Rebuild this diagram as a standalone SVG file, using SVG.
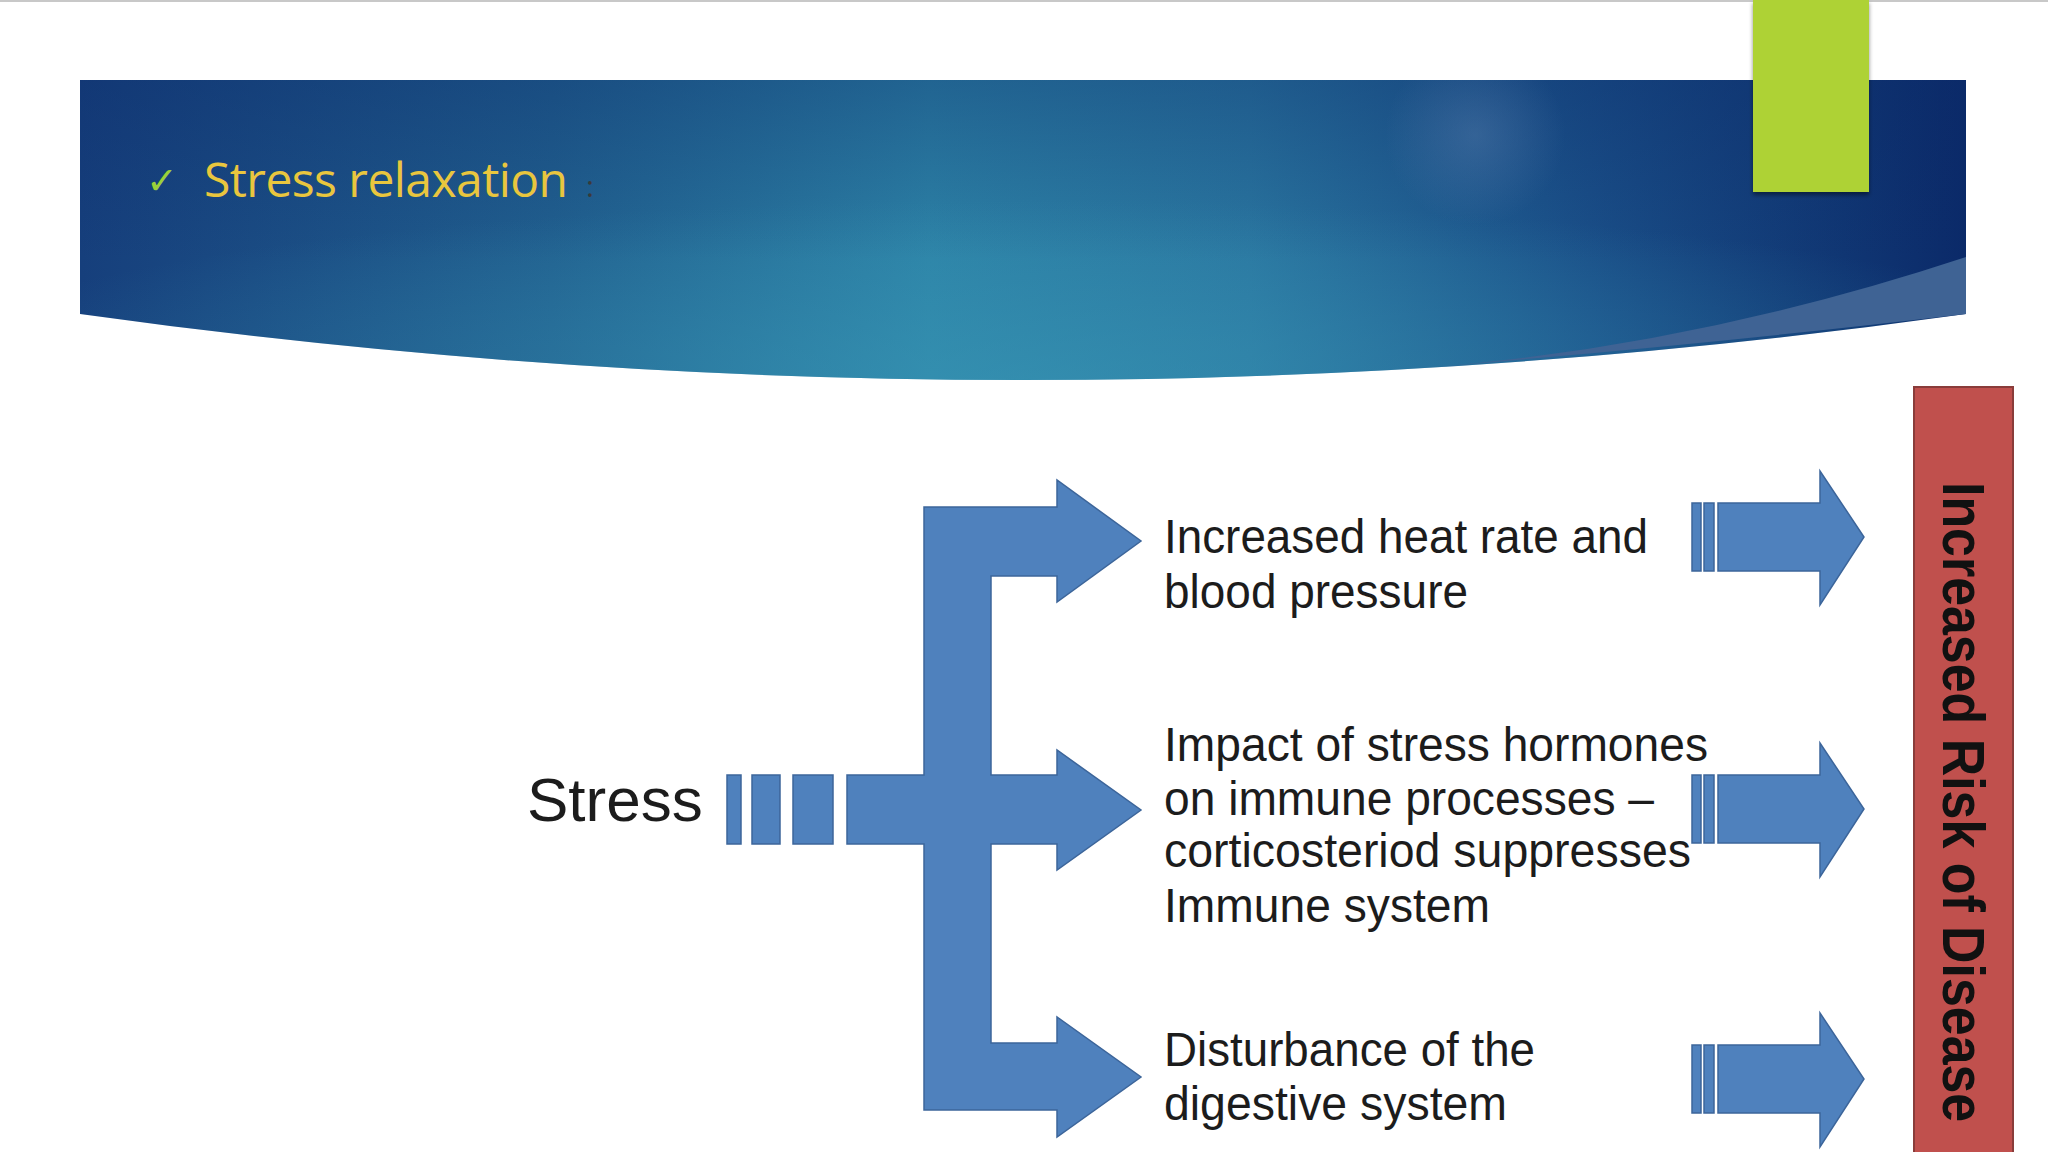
<svg xmlns="http://www.w3.org/2000/svg" width="2048" height="1152" viewBox="0 0 2048 1152">
<defs>
<style>
.lbl{font-family:"Liberation Sans",Arial,sans-serif;font-size:49px;fill:#1c1c1c;}
.blue{fill:#4f81bd;stroke:#3c659a;stroke-width:1.5;}
</style>
<linearGradient id="hdr" x1="0" y1="0" x2="1" y2="0">
<stop offset="0" stop-color="#163f7c"/>
<stop offset="0.25" stop-color="#21608f"/>
<stop offset="0.45" stop-color="#2d83a7"/>
<stop offset="0.62" stop-color="#2a76a0"/>
<stop offset="0.8" stop-color="#1a4f88"/>
<stop offset="1" stop-color="#0b2a69"/>
</linearGradient>
<linearGradient id="vshade" x1="0" y1="0" x2="0" y2="1">
<stop offset="0" stop-color="#0b2a69" stop-opacity="0.35"/>
<stop offset="0.6" stop-color="#0b2a69" stop-opacity="0"/>
</linearGradient>
<radialGradient id="glow" cx="0.5" cy="1" r="0.6">
<stop offset="0" stop-color="#3a9bb8" stop-opacity="0.5"/>
<stop offset="1" stop-color="#3a9bb8" stop-opacity="0"/>
</radialGradient>
<radialGradient id="spot" cx="1475" cy="135" r="90" gradientUnits="userSpaceOnUse">
<stop offset="0" stop-color="#5a7fae" stop-opacity="0.4"/>
<stop offset="1" stop-color="#5a7fae" stop-opacity="0"/>
</radialGradient>
<filter id="sh" x="-10%" y="-10%" width="120%" height="130%">
<feDropShadow dx="0" dy="3" stdDeviation="2" flood-color="#000" flood-opacity="0.45"/>
</filter>
<g id="rarrow">
<rect class="blue" x="1692" y="-34" width="9" height="68"/>
<rect class="blue" x="1704" y="-34" width="10" height="68"/>
<path class="blue" d="M1718,-34 H1820 V-66 L1864,0 L1820,68 V34 H1718 Z"/>
</g>
</defs>

<rect x="0" y="0" width="2048" height="1152" fill="#ffffff"/>
<rect x="0" y="0" width="2048" height="2" fill="#c8c8c8"/>

<g id="header">
<path d="M80,80 H1966 V314 Q1023,446 80,314 Z" fill="url(#hdr)"/>
<path d="M80,80 H1966 V314 Q1023,446 80,314 Z" fill="url(#glow)"/>
<path d="M80,80 H1966 V314 Q1023,446 80,314 Z" fill="url(#vshade)"/>
<path d="M80,80 H1966 V314 Q1023,446 80,314 Z" fill="url(#spot)"/>
<path d="M1966,257 Q1700,345 1436,367 Q1720,343 1966,314 Z" fill="#3f6394"/>
<rect x="1753" y="0" width="116" height="192" fill="#aed235" filter="url(#sh)"/>
<text x="146" y="194" font-family="DejaVu Sans,sans-serif" font-size="38" fill="#9bd13a">✓</text>
<text x="204" y="197" font-family="Open Sans,sans-serif" font-size="48" fill="#e9c63e" textLength="364">Stress relaxation</text>
<text x="586" y="197" font-family="Open Sans,sans-serif" font-size="30" fill="#3a3a3a">:</text>
</g>

<g id="stress">
<text x="527" y="821" font-family="Liberation Sans,Arial,sans-serif" font-size="62" fill="#1c1c1c">Stress</text>
<rect class="blue" x="727" y="775" width="14" height="69"/>
<rect class="blue" x="752" y="775" width="28" height="69"/>
<rect class="blue" x="793" y="775" width="40" height="69"/>
</g>

<g id="connectors">
<path class="blue" d="M924,507 H1057 V480 L1141,541 L1057,602 V576 H991 V775 H1057 V750 L1141,810 L1057,870 V844 H991 V1043 H1057 V1017 L1141,1077 L1057,1137 V1110 H924 V844 H847 V775 H924 Z"/>
<use href="#rarrow" transform="translate(0,537)"/>
<use href="#rarrow" transform="translate(0,809)"/>
<use href="#rarrow" transform="translate(0,1079)"/>
</g>

<g id="effect-heart">
<text class="lbl" x="1164" y="553" textLength="484" lengthAdjust="spacingAndGlyphs">Increased heat rate and</text>
<text class="lbl" x="1164" y="608" textLength="304" lengthAdjust="spacingAndGlyphs">blood pressure</text>
</g>

<g id="effect-immune">
<text class="lbl" x="1164" y="761" textLength="544" lengthAdjust="spacingAndGlyphs">Impact of stress hormones</text>
<text class="lbl" x="1164" y="815" textLength="490" lengthAdjust="spacingAndGlyphs">on immune processes –</text>
<text class="lbl" x="1164" y="867" textLength="527" lengthAdjust="spacingAndGlyphs">corticosteriod suppresses</text>
<text class="lbl" x="1164" y="922" textLength="326" lengthAdjust="spacingAndGlyphs">Immune system</text>
</g>

<g id="effect-digestive">
<text class="lbl" x="1164" y="1066" textLength="371" lengthAdjust="spacingAndGlyphs">Disturbance of the</text>
<text class="lbl" x="1164" y="1120" textLength="343" lengthAdjust="spacingAndGlyphs">digestive system</text>
</g>

<g id="risk">
<rect x="1914" y="387" width="99" height="800" fill="#c0504d" stroke="#8a3c3a" stroke-width="2"/>
<text transform="translate(1943,482) rotate(90) scale(0.865,1)" font-family="Liberation Sans,Arial,sans-serif" font-weight="bold" font-size="60" fill="#111">Increased Risk of Disease</text>
</g>
</svg>
